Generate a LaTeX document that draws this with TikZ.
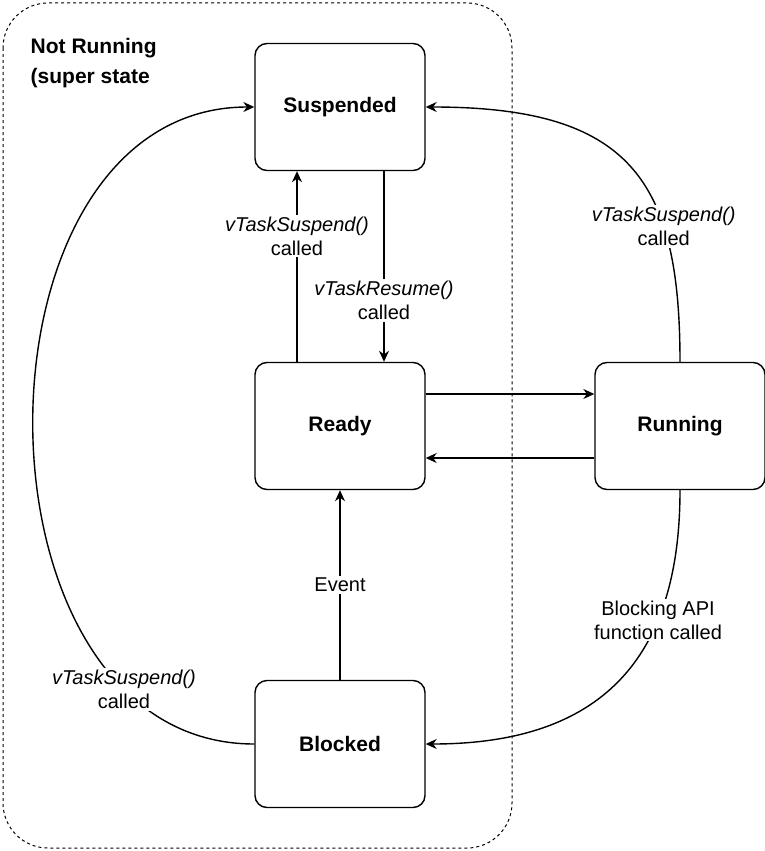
\documentclass[tikz,border=0pt]{standalone}
\usepackage{fontspec}
\setmainfont{Liberation Sans}
\usetikzlibrary{arrows.meta, positioning}
\begin{document}
\begin{tikzpicture}[x=1pt, y=-1pt, >={Stealth[length=11pt, width=10pt]}, line width=1.4pt,
  state/.style={draw, rounded corners=12pt, minimum width=170pt, minimum height=127pt, font=\fontsize{21}{25}\selectfont\bfseries},
  lbl/.style={fill=white, align=center, font=\fontsize{20}{24}\selectfont, inner sep=2pt}]
  \useasboundingbox (0,0) rectangle (765,851);
  % Super state
  \draw[dashed, line width=1pt, rounded corners=45pt] (3,3) rectangle (512,848);
  \node[anchor=north west, align=left, font=\fontsize{21}{30}\selectfont\bfseries, inner sep=0pt] (super) at (30,38) {Not Running\\(super state};
  % States
  \node[state] (susp) at (340,107) {Suspended};
  \node[state] (ready) at (340,426) {Ready};
  \node[state] (run) at (680,426) {Running};
  \node[state] (block) at (340,744) {Blocked};
  % Transitions
  \draw[->] ([xshift=-43pt]ready.north) -- node[lbl, pos=0.66] {\textit{vTaskSuspend()}\\called} ([xshift=-43pt]susp.south);
  \draw[->] ([xshift=44pt]susp.south) -- node[lbl, pos=0.68] {\textit{vTaskResume()}\\called} ([xshift=44pt]ready.north);
  \draw[->] ([yshift=32pt]ready.east) -- ([yshift=32pt]run.west);
  \draw[->] ([yshift=-32pt]run.west) -- ([yshift=-32pt]ready.east);
  \draw[->] (block) -- node[lbl] {Event} (ready);
  \draw[->] (run.north) .. controls (680,180) and (630,107) .. node[lbl, pos=0.3] {\textit{vTaskSuspend()}\\called} (susp.east);
  \draw[->] (run.south) .. controls (680,660) and (600,744) .. node[lbl, pos=0.3] {Blocking API\\function called} (block.east);
  \draw[->] (block.west) .. controls (-40,744) and (-40,107) .. node[lbl, pos=0.18] {\textit{vTaskSuspend()}\\called} (susp.west);
\end{tikzpicture}
\end{document}
